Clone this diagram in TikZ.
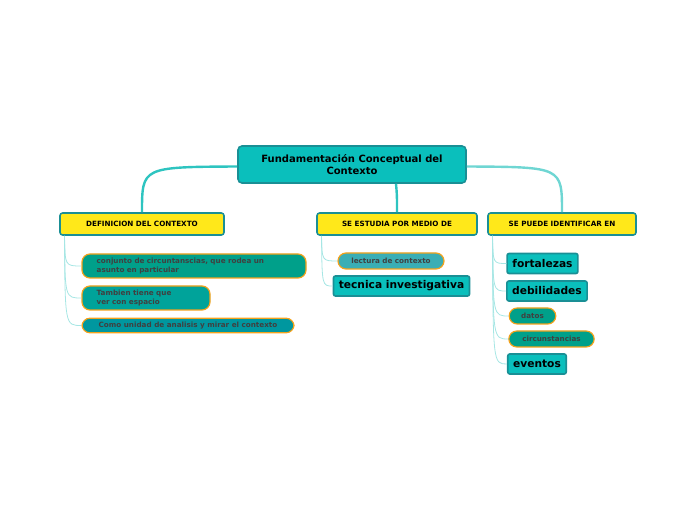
\documentclass[tikz,border=0pt]{standalone}
\usepackage{fontspec}
\setmainfont{DejaVu Sans}
\definecolor{cRoot}{HTML}{0ABFBC}
\definecolor{cB}{HTML}{1A8F95}
\definecolor{cY}{HTML}{FFE81A}
\definecolor{cO}{HTML}{F3A21C}
\definecolor{cL}{HTML}{2EC4C0}
\definecolor{cL2}{HTML}{6FD6D3}
\definecolor{cS}{HTML}{A6E6E4}
\definecolor{g1}{HTML}{00A08A}
\definecolor{g2}{HTML}{00A39A}
\definecolor{g3}{HTML}{00979F}
\definecolor{g4}{HTML}{3AAEB5}
\begin{document}
\begin{tikzpicture}[x=0.75pt,y=-0.75pt,
 base/.style={draw, line width=1.2pt, inner sep=0pt, font=\bfseries},
 rootbox/.style={base, fill=cRoot, draw=cB, rounded corners=3pt, minimum width=171pt, minimum height=27.75pt, align=center, font=\bfseries\fontsize{7.5}{9}\selectfont},
 cat/.style={base, fill=cY, draw=cB, rounded corners=2pt, minimum height=16.5pt, font=\bfseries\fontsize{5.4}{6}\selectfont},
 pill/.style={base, draw=cO, line width=0.9pt, rounded corners=6pt, font=\bfseries\fontsize{5.4}{6.8}\selectfont, text=black!75, align=left, inner xsep=11pt},
 big/.style={base, fill=cRoot, draw=cB, rounded corners=1.5pt, inner xsep=4pt, minimum height=15pt, font=\bfseries\fontsize{8}{9}\selectfont},
 main/.style={cL, line width=1.8pt},
 main2/.style={cL2, line width=1.8pt},
 sub/.style={cS, line width=0.6pt}]
\useasboundingbox (0,0) rectangle (697,520);
\node[rootbox] (root) at (352,164.5) {Fundamentación Conceptual del\\Contexto};
\node[cat, minimum width=123pt] (def) at (142,224) {DEFINICION DEL CONTEXTO};
\node[cat, minimum width=120pt] (est) at (397,224) {SE ESTUDIA POR MEDIO DE};
\node[cat, minimum width=111pt] (pue) at (562,224) {SE PUEDE IDENTIFICAR EN};
% definicion children
\node[pill, fill=g1, minimum height=18pt, text width=146pt] (c1) at (194,266) {conjunto de circuntanscias, que rodea un\\asunto en particular};
\node[pill, fill=g2, minimum height=18pt, text width=74pt] (c2) at (146,298) {Tambien tiene que\\ver con espacio};
\node[pill, fill=g3, minimum height=11pt, minimum width=159pt, inner xsep=0pt, align=center] (c3) at (188,325.5) {Como unidad de analisis y mirar el contexto};
% estudia children
\node[pill, fill=g4, minimum height=12pt, minimum width=79.5pt, inner xsep=0pt, align=center] (e1) at (391,261) {lectura de contexto};
\node[big] (e2) at (401.5,286) {tecnica investigativa};
% puede children
\node[big] (p1) at (542.5,263.5) {fortalezas};
\node[big] (p2) at (547,291) {debilidades};
\node[pill, fill=g1, minimum height=12pt, minimum width=35pt, inner xsep=0pt, align=center] (p3) at (532.5,316) {datos};
\node[pill, fill=g1, minimum height=12pt, minimum width=64pt, inner xsep=0pt, align=center] (p4) at (551.5,339) {circunstancias};
\node[big] (p5) at (537,364) {eventos};
% main connectors
\draw[main] ([yshift=-1.5pt]root.west) .. controls (142,167) .. (def.north);
\draw[main] ([xshift=33pt]root.south) .. controls (397,195) .. (est.north);
\draw[main2] ([yshift=-1.5pt]root.east) .. controls (562,167) .. (pue.north);
% sub connectors
\foreach \n in {c1,c2,c3}
  \draw[sub] ([xshift=4pt]def.south west) .. controls (65,0|-\n.west) and (65,0|-\n.west) .. (\n.west);
\foreach \n in {e1,e2}
  \draw[sub] ([xshift=4pt]est.south west) .. controls (322,0|-\n.west) and (322,0|-\n.west) .. (\n.west);
\foreach \n in {p1,p2,p3,p4,p5}
  \draw[sub] ([xshift=4pt]pue.south west) .. controls (493,0|-\n.west) and (493,0|-\n.west) .. (\n.west);
\end{tikzpicture}
\end{document}
